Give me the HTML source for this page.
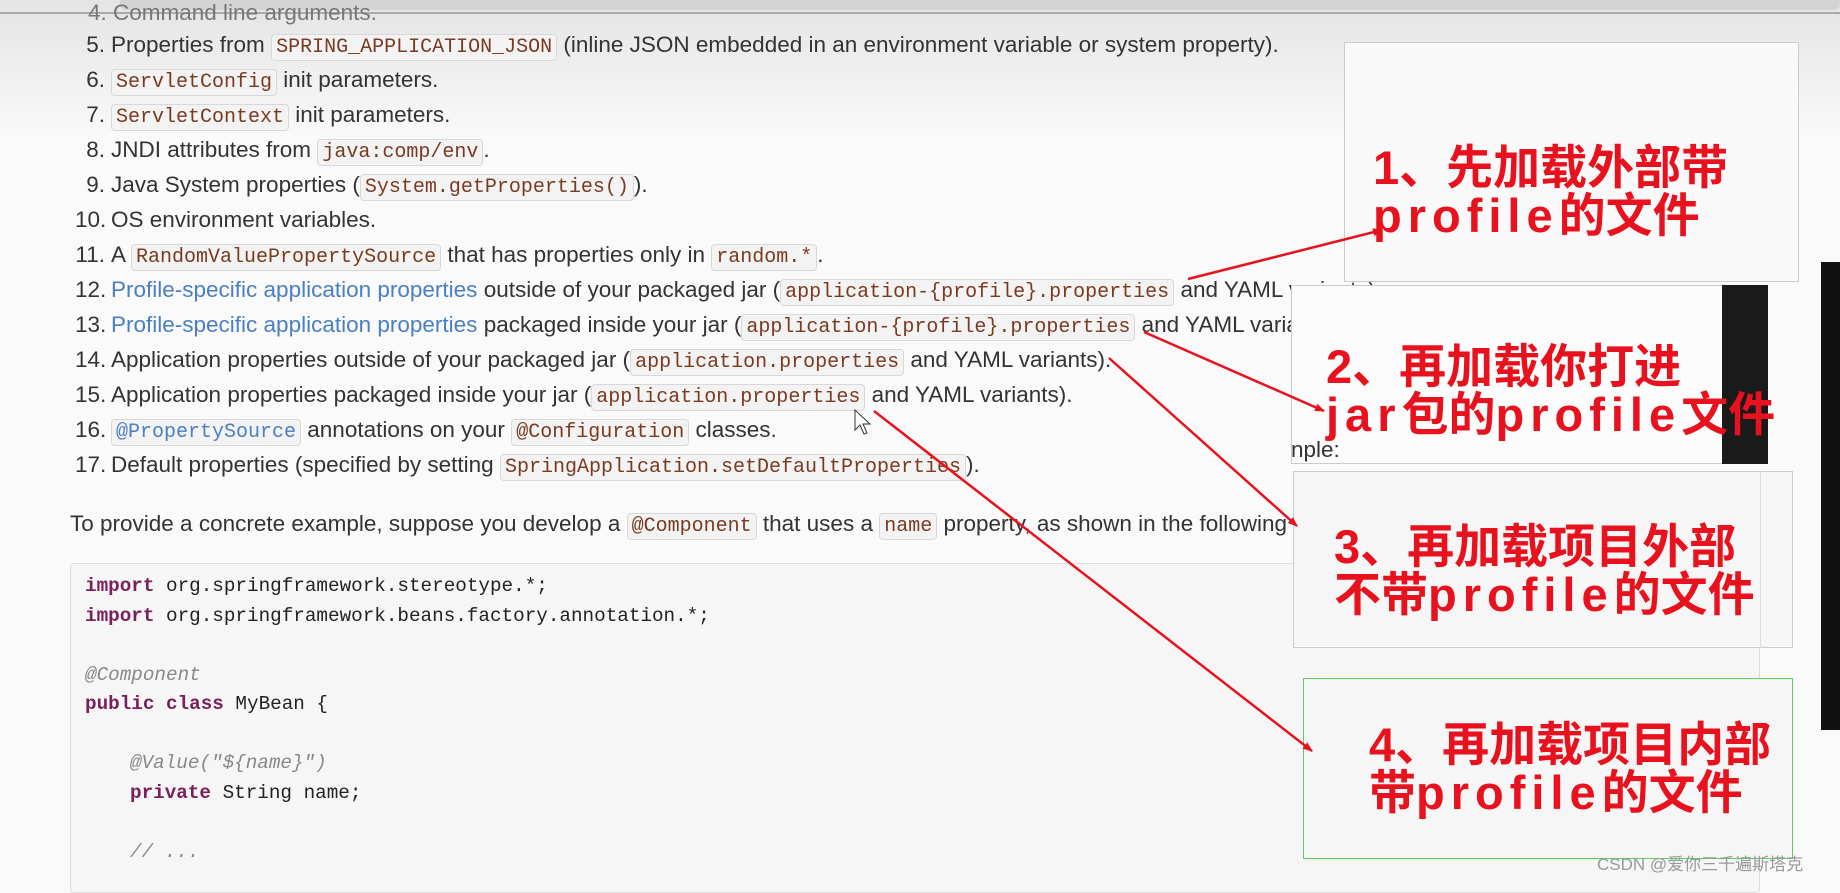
<!DOCTYPE html>
<html><head><meta charset="utf-8"><style>
*{margin:0;padding:0;box-sizing:border-box}
body{width:1840px;height:878px;position:relative;overflow:hidden;background:#fafafa;font-family:"Liberation Sans",Arial,sans-serif;color:#333}
.top{position:absolute;left:0;top:0;width:1840px;height:140px;background:linear-gradient(#e4e4e4,#fafafa)}
.bar{position:absolute;left:0;top:12px;width:1840px;height:2px;background:#aaa}
.bar2{position:absolute;left:120px;top:0;width:1720px;height:10px;background:#d4d4d4;border-radius:0 0 6px 6px}
.ln{position:absolute;font-size:22.5px;white-space:nowrap;line-height:30px;color:#333;letter-spacing:0px}
.ln .n{display:inline-block;width:30px;text-align:right;margin-right:6px}
.c{font-family:"Liberation Mono",monospace;font-size:20px;color:#7a3a20;background:#f3f3f3;border:1px solid #d8d8d8;border-radius:4px;padding:1px 4px;letter-spacing:0}
.a{color:#4a7fc1}
.code{position:absolute;left:70px;top:563px;width:1690px;height:330px;background:#f6f6f6;border:1px solid #ddd;border-radius:4px}
.cl{position:absolute;font-family:"Liberation Mono",monospace;font-size:19.3px;white-space:pre;color:#222}
.k{color:#7a1f5a;font-weight:bold}
.i{color:#888;font-style:italic}
.box{position:absolute;background:#f9f9f9;border:1px solid #ccc}
.rt{position:absolute;color:#e8121e;font-weight:bold;font-size:47px;line-height:48px;white-space:nowrap;font-family:"Liberation Sans","Noto Sans CJK SC",sans-serif}
.rt .p{letter-spacing:6px}
</style></head><body>
<div class="top"></div><div class="bar2"></div><div class="bar"></div>
<div class="ln" style="left:88px;top:-2px;color:#777">4. Command line arguments.</div>
<div class="ln" style="left:75px;top:30px"><span class="n">5.</span>Properties from <span class="c">SPRING_APPLICATION_JSON</span> (inline JSON embedded in an environment variable or system property).</div>
<div class="ln" style="left:75px;top:65px"><span class="n">6.</span><span class="c">ServletConfig</span> init parameters.</div>
<div class="ln" style="left:75px;top:100px"><span class="n">7.</span><span class="c">ServletContext</span> init parameters.</div>
<div class="ln" style="left:75px;top:135px"><span class="n">8.</span>JNDI attributes from <span class="c">java:comp/env</span>.</div>
<div class="ln" style="left:75px;top:170px"><span class="n">9.</span>Java System properties (<span class="c">System.getProperties()</span>).</div>
<div class="ln" style="left:75px;top:205px"><span class="n">10.</span>OS environment variables.</div>
<div class="ln" style="left:75px;top:240px"><span class="n">11.</span>A <span class="c">RandomValuePropertySource</span> that has properties only in <span class="c">random.*</span>.</div>
<div class="ln" style="left:75px;top:275px"><span class="n">12.</span><span class="a">Profile-specific application properties</span> outside of your packaged jar (<span class="c">application-{profile}.properties</span> and YAML variants).</div>
<div class="ln" style="left:75px;top:310px"><span class="n">13.</span><span class="a">Profile-specific application properties</span> packaged inside your jar (<span class="c">application-{profile}.properties</span> and YAML variants).</div>
<div class="ln" style="left:75px;top:345px"><span class="n">14.</span>Application properties outside of your packaged jar (<span class="c">application.properties</span> and YAML variants).</div>
<div class="ln" style="left:75px;top:380px"><span class="n">15.</span>Application properties packaged inside your jar (<span class="c">application.properties</span> and YAML variants).</div>
<div class="ln" style="left:75px;top:415px"><span class="n">16.</span><span class="c" style="color:#4a7fc1">@PropertySource</span> annotations on your <span class="c">@Configuration</span> classes.</div>
<div class="ln" style="left:75px;top:450px"><span class="n">17.</span>Default properties (specified by setting <span class="c">SpringApplication.setDefaultProperties</span>).</div>
<div class="ln" style="left:70px;top:509px">To provide a concrete example, suppose you develop a <span class="c">@Component</span> that uses a <span class="c">name</span> property, as shown in the following example:</div>
<div class="code"></div>
<div class="cl" style="left:85px;top:575px"><span class="k">import</span> org.springframework.stereotype.*;</div>
<div class="cl" style="left:85px;top:605px"><span class="k">import</span> org.springframework.beans.factory.annotation.*;</div>
<div class="cl i" style="left:85px;top:664px">@Component</div>
<div class="cl" style="left:85px;top:693px"><span class="k">public class</span> MyBean {</div>
<div class="cl i" style="left:130px;top:752px">@Value("${name}")</div>
<div class="cl" style="left:130px;top:782px"><span class="k">private</span> String name;</div>
<div class="cl i" style="left:130px;top:841px">// ...</div>

<div class="box" style="left:1344px;top:42px;width:455px;height:240px"></div>
<div class="box" style="left:1291px;top:285px;width:477px;height:179px;background:#fcfcfc"></div>
<div style="position:absolute;left:1722px;top:285px;width:46px;height:179px;background:#1a1a1a"></div>
<div class="ln" style="left:1291px;top:435px">nple:</div>
<div class="box" style="left:1293px;top:471px;width:500px;height:177px;background:#f6f6f6"></div>
<div style="position:absolute;left:1760px;top:471px;width:1px;height:177px;background:#ddd"></div>
<div class="box" style="left:1303px;top:678px;width:490px;height:181px;background:#f6f6f6;border-color:#5ccf5c"></div>
<div style="position:absolute;left:1821px;top:262px;width:19px;height:468px;background:#111"></div>

<div class="rt" style="left:1373px;top:144px">1、先加载外部带<br><span class="p">profile</span>的文件</div>
<div class="rt" style="left:1326px;top:343px">2、再加载你打进<br><span class="p">jar</span>包的<span class="p">profile</span>文件</div>
<div class="rt" style="left:1334px;top:523px">3、再加载项目外部<br>不带<span class="p">profile</span>的文件</div>
<div class="rt" style="left:1369px;top:721px">4、再加载项目内部<br>带<span class="p">profile</span>的文件</div>

<svg style="position:absolute;left:0;top:0" width="1840" height="878">
<defs><marker id="m" markerWidth="10" markerHeight="8" refX="9" refY="4" orient="auto" markerUnits="userSpaceOnUse"><path d="M0,0L10,4L0,8z" fill="#e8121e"/></marker></defs>
<g stroke="#e8121e" stroke-width="2.5" marker-end="url(#m)">
<line x1="1188" y1="279" x2="1382" y2="230"/>
<line x1="1144" y1="332" x2="1324" y2="411"/>
<line x1="1109" y1="358" x2="1297" y2="526"/>
<line x1="874" y1="411" x2="1312" y2="751"/>
</g>
<path d="M855,410 l0,20 l5,-5 l4,9 l3,-1 l-4,-9 l7,0z" fill="#fff" stroke="#333" stroke-width="1"/>
</svg>
<div style="position:absolute;left:1597px;top:850px;font-size:17px;color:#999;font-family:'Liberation Sans','Noto Sans CJK SC',sans-serif">CSDN @爱你三千遍斯塔克</div>
</body></html>
